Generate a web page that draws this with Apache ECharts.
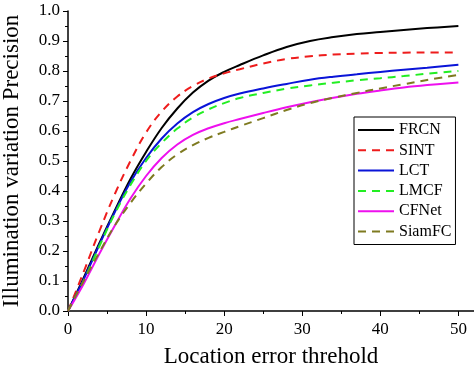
<!DOCTYPE html>
<html>
<head>
<meta charset="utf-8">
<script src="https://cdn.jsdelivr.net/npm/echarts@6/dist/echarts.min.js"></script>
<style>
  html, body { margin: 0; padding: 0; background: #fff; }
  #chart { width: 474px; height: 369px; }
</style>
</head>
<body>
<div id="chart"></div>
<script>
// location error threshold (x) and precision of each tracker
const thresholds = [0, 2, 4, 6, 8, 10, 12, 14, 16, 18, 20, 22, 25, 28, 31, 34, 37, 40, 43, 46, 50];
const frcn   = [0, 0.11, 0.225, 0.335, 0.44, 0.53, 0.61, 0.675, 0.728, 0.768, 0.797, 0.82, 0.852, 0.88, 0.90, 0.913, 0.923, 0.93, 0.937, 0.943, 0.95];
const sint   = [0, 0.13, 0.265, 0.39, 0.50, 0.595, 0.665, 0.715, 0.75, 0.775, 0.792, 0.806, 0.825, 0.84, 0.849, 0.855, 0.858, 0.86, 0.861, 0.862, 0.862];
const lct    = [0, 0.105, 0.22, 0.33, 0.43, 0.51, 0.575, 0.625, 0.663, 0.69, 0.71, 0.725, 0.742, 0.757, 0.771, 0.781, 0.789, 0.797, 0.804, 0.811, 0.821];
const lmcf   = [0, 0.10, 0.215, 0.325, 0.42, 0.50, 0.56, 0.608, 0.645, 0.672, 0.693, 0.71, 0.727, 0.741, 0.752, 0.761, 0.769, 0.776, 0.783, 0.791, 0.80];
const cfnet  = [0, 0.09, 0.19, 0.285, 0.375, 0.45, 0.51, 0.555, 0.587, 0.609, 0.626, 0.64, 0.66, 0.679, 0.696, 0.711, 0.724, 0.735, 0.745, 0.753, 0.762];
const siamfc = [0, 0.10, 0.195, 0.285, 0.36, 0.425, 0.48, 0.522, 0.553, 0.577, 0.597, 0.616, 0.643, 0.67, 0.693, 0.711, 0.727, 0.742, 0.756, 0.77, 0.787];
const yTicks = ['0.0', '0.1', '0.2', '0.3', '0.4', '0.5', '0.6', '0.7', '0.8', '0.9', '1.0'];

const font = 'Liberation Serif';
const pair = (ys) => thresholds.map((x, i) => [x, ys[i]]);

const mkLine = (name, ys, color, dashed) => ({
  name: name,
  type: 'line',
  smooth: 0.4,
  symbol: 'none',
  data: pair(ys),
  lineStyle: { color: color, width: 2, type: dashed ? [8, 6] : 'solid' },
  itemStyle: { color: color },
});

const myChart = echarts.init(document.getElementById('chart'));

const option = {
  animation: false,
  grid: { left: 68, right: 0, top: 11, bottom: 58, containLabel: false, outerBoundsMode: 'none' },
  legend: {
    left: 354,
    top: 117,
    orient: 'vertical',
    itemWidth: 36,
    itemHeight: 14,
    itemGap: 4.3,
    padding: [5, 4, 5, 3],
    borderColor: '#000',
    borderWidth: 1,
    itemStyle: { opacity: 0 },
    textStyle: { fontFamily: font, fontSize: 16, color: '#000' },
    data: ['FRCN', 'SINT', 'LCT', 'LMCF', 'CFNet', 'SiamFC'],
  },
  xAxis: {
    type: 'value',
    min: 0,
    max: 52,
    interval: 10,
    name: 'Location error threhold',
    nameLocation: 'middle',
    nameGap: 34,
    nameTextStyle: { fontFamily: font, fontSize: 23, color: '#000' },
    axisLine: { lineStyle: { color: '#000', width: 1.5 } },
    axisTick: { length: 5, lineStyle: { color: '#000' } },
    minorTick: { show: true, splitNumber: 2, length: 3, lineStyle: { color: '#000' } },
    axisLabel: { fontFamily: font, fontSize: 17, color: '#000', margin: 10, showMaxLabel: false },
    splitLine: { show: false },
  },
  yAxis: {
    type: 'value',
    min: 0,
    max: 1,
    interval: 0.1,
    name: 'Illumination variation Precision',
    nameLocation: 'middle',
    nameGap: 45,
    nameTextStyle: { fontFamily: font, fontSize: 23, color: '#000' },
    axisLine: { show: true, lineStyle: { color: '#000', width: 1.5 } },
    axisTick: { show: true, length: 5, lineStyle: { color: '#000' } },
    minorTick: { show: true, splitNumber: 2, length: 3, lineStyle: { color: '#000' } },
    axisLabel: {
      fontFamily: font, fontSize: 17, color: '#000', margin: 8,
      formatter: (v) => yTicks[Math.round(v * 10)],
    },
    splitLine: { show: false },
  },
  series: [
    mkLine('FRCN', frcn, '#000000', false),
    mkLine('SINT', sint, '#ee1c1c', true),
    mkLine('LCT', lct, '#0a14d8', false),
    mkLine('LMCF', lmcf, '#22ee22', true),
    mkLine('CFNet', cfnet, '#ee10ee', false),
    mkLine('SiamFC', siamfc, '#7e7a20', true),
  ],
};

myChart.setOption(option);
</script>
</body>
</html>
